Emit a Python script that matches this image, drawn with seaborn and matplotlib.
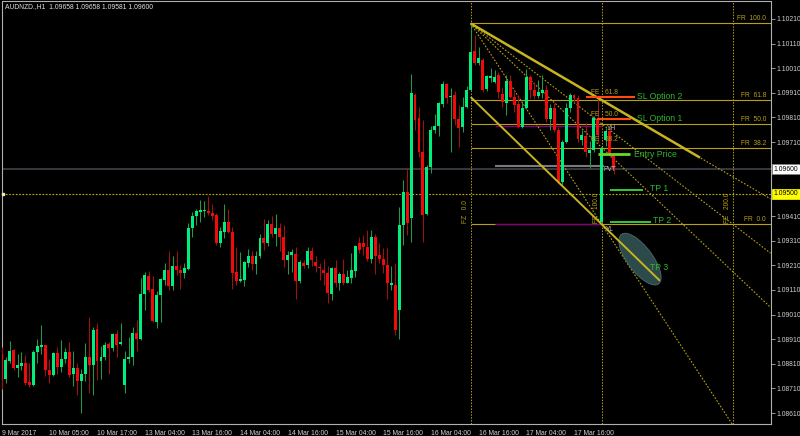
import matplotlib
matplotlib.use("Agg")
import matplotlib.pyplot as plt
import matplotlib.transforms as mtransforms
from matplotlib.patches import Ellipse
import numpy as np
import pandas as pd
import seaborn as sns

# AUDNZD H1 candles (index 0 = 9 Mar 2017 17:00)
opens = [
    1.08848, 1.08750, 1.08823, 1.08866, 1.08794, 1.08801, 1.08812, 1.08735, 1.08724, 1.08856,
    1.08880, 1.08887, 1.08785, 1.08765, 1.08853, 1.08799, 1.08829, 1.08858, 1.08770, 1.08792,
    1.08742, 1.08769, 1.08839, 1.08805, 1.08950, 1.08823, 1.08839, 1.08889, 1.08873, 1.08930,
    1.08889, 1.08724, 1.08829, 1.08839, 1.08937, 1.08911, 1.09093, 1.09167, 1.09114, 1.08981,
    1.09088, 1.09151, 1.09189, 1.09124, 1.09208, 1.09189, 1.09178, 1.09195, 1.09360, 1.09411,
    1.09427, 1.09431, 1.09432, 1.09424, 1.09414, 1.09300, 1.09344, 1.09384, 1.09346, 1.09181,
    1.09147, 1.09151, 1.09219, 1.09249, 1.09216, 1.09249, 1.09320, 1.09300, 1.09378, 1.09337,
    1.09360, 1.09324, 1.09232, 1.09252, 1.09256, 1.09145, 1.09218, 1.09211, 1.09269, 1.09225,
    1.09205, 1.09191, 1.09180, 1.09094, 1.09198, 1.09137, 1.09175, 1.09140, 1.09157, 1.09188,
    1.09302, 1.09299, 1.09286, 1.09234, 1.09324, 1.09252, 1.09234, 1.09211, 1.09130, 1.09130,
    1.09029, 1.09374, 1.09509, 1.09401, 1.09901, 1.09807, 1.09671, 1.09418, 1.09610, 1.09759,
    1.09776, 1.09865, 1.09946, 1.09895, 1.09901, 1.09803, 1.09773, 1.09851, 1.09922, 1.10080,
    1.10030, 1.10045, 1.09926, 1.09972, 1.09955, 1.09982, 1.09905, 1.09868, 1.09958, 1.09895,
    1.09864, 1.09773, 1.09850, 1.09976, 1.09922, 1.09897, 1.09908, 1.09922, 1.09804, 1.09847,
    1.09759, 1.09550, 1.09712, 1.09847, 1.09901, 1.09889, 1.09719, 1.09735, 1.09666, 1.09678,
    1.09804, 1.09386, 1.09719, 1.09755, 1.09658,
]
highs = [
    1.08877, 1.08839, 1.08903, 1.08870, 1.08850, 1.08857, 1.08846, 1.08812, 1.08866, 1.08910,
    1.08968, 1.08887, 1.08828, 1.08856, 1.08880, 1.08907, 1.08873, 1.08900, 1.08860, 1.08812,
    1.08789, 1.08896, 1.09001, 1.08961, 1.08977, 1.08883, 1.08900, 1.08900, 1.08937, 1.08947,
    1.08977, 1.08860, 1.08920, 1.08961, 1.08988, 1.09158, 1.09181, 1.09185, 1.09165, 1.09104,
    1.09158, 1.09219, 1.09266, 1.09249, 1.09266, 1.09212, 1.09221, 1.09381, 1.09428, 1.09438,
    1.09473, 1.09469, 1.09492, 1.09459, 1.09421, 1.09364, 1.09459, 1.09438, 1.09364, 1.09284,
    1.09262, 1.09226, 1.09276, 1.09266, 1.09266, 1.09338, 1.09397, 1.09394, 1.09411, 1.09419,
    1.09381, 1.09374, 1.09266, 1.09276, 1.09284, 1.09232, 1.09232, 1.09283, 1.09283, 1.09248,
    1.09218, 1.09234, 1.09207, 1.09205, 1.09232, 1.09184, 1.09234, 1.09191, 1.09261, 1.09292,
    1.09324, 1.09333, 1.09353, 1.09353, 1.09337, 1.09302, 1.09279, 1.09279, 1.09207, 1.09218,
    1.09448, 1.09556, 1.09604, 1.09987, 1.09908, 1.09854, 1.09800, 1.09617, 1.09776, 1.09824,
    1.09874, 1.09960, 1.09951, 1.09928, 1.09919, 1.09861, 1.09895, 1.09938, 1.10192, 1.10145,
    1.10097, 1.10050, 1.09982, 1.10010, 1.10003, 1.09996, 1.09935, 1.09982, 1.09982, 1.09922,
    1.09901, 1.09871, 1.10007, 1.09982, 1.09955, 1.09962, 1.09982, 1.09942, 1.09864, 1.09867,
    1.09773, 1.09719, 1.09867, 1.09908, 1.09904, 1.09901, 1.09759, 1.09788, 1.09715, 1.09816,
    1.09893, 1.09690, 1.09767, 1.09770, 1.09658,
]
lows = [
    1.08709, 1.08734, 1.08812, 1.08783, 1.08758, 1.08785, 1.08724, 1.08715, 1.08720, 1.08812,
    1.08850, 1.08761, 1.08731, 1.08761, 1.08769, 1.08775, 1.08812, 1.08758, 1.08718, 1.08684,
    1.08610, 1.08739, 1.08691, 1.08684, 1.08745, 1.08747, 1.08826, 1.08769, 1.08860, 1.08836,
    1.08885, 1.08691, 1.08812, 1.08806, 1.08860, 1.08907, 1.09027, 1.09100, 1.08981, 1.08957,
    1.08981, 1.09131, 1.09111, 1.09108, 1.09171, 1.09114, 1.09158, 1.09192, 1.09324, 1.09374,
    1.09387, 1.09408, 1.09414, 1.09394, 1.09293, 1.09284, 1.09320, 1.09340, 1.09114, 1.09131,
    1.09141, 1.09124, 1.09203, 1.09192, 1.09176, 1.09239, 1.09270, 1.09289, 1.09324, 1.09289,
    1.09266, 1.09205, 1.09176, 1.09181, 1.09073, 1.09138, 1.09198, 1.09198, 1.09207, 1.09184,
    1.09150, 1.09130, 1.09056, 1.09069, 1.09123, 1.09110, 1.09130, 1.09137, 1.09137, 1.09161,
    1.09261, 1.09252, 1.09229, 1.09218, 1.09175, 1.09218, 1.09177, 1.09072, 1.09110, 1.08927,
    1.08910, 1.09293, 1.09333, 1.09306, 1.09759, 1.09651, 1.09306, 1.09414, 1.09586, 1.09746,
    1.09735, 1.09851, 1.09870, 1.09671, 1.09780, 1.09692, 1.09752, 1.09847, 1.09918, 1.10023,
    1.10023, 1.09915, 1.09918, 1.09955, 1.09949, 1.09888, 1.09854, 1.09820, 1.09888, 1.09834,
    1.09766, 1.09769, 1.09844, 1.09888, 1.09885, 1.09888, 1.09888, 1.09793, 1.09759, 1.09752,
    1.09543, 1.09536, 1.09705, 1.09834, 1.09874, 1.09710, 1.09698, 1.09650, 1.09605, 1.09670,
    1.09707, 1.09374, 1.09694, 1.09650, 1.09581,
]
closes = [
    1.08749, 1.08826, 1.08862, 1.08792, 1.08805, 1.08812, 1.08734, 1.08724, 1.08857, 1.08883,
    1.08887, 1.08785, 1.08765, 1.08853, 1.08799, 1.08829, 1.08858, 1.08765, 1.08792, 1.08742,
    1.08769, 1.08839, 1.08805, 1.08947, 1.08823, 1.08839, 1.08887, 1.08873, 1.08930, 1.08887,
    1.08897, 1.08830, 1.08839, 1.08937, 1.08911, 1.09093, 1.09171, 1.09111, 1.08985, 1.09090,
    1.09154, 1.09189, 1.09124, 1.09208, 1.09189, 1.09178, 1.09198, 1.09360, 1.09411, 1.09432,
    1.09435, 1.09435, 1.09421, 1.09412, 1.09300, 1.09350, 1.09384, 1.09344, 1.09178, 1.09145,
    1.09155, 1.09222, 1.09249, 1.09216, 1.09249, 1.09320, 1.09300, 1.09378, 1.09337, 1.09360,
    1.09324, 1.09232, 1.09253, 1.09262, 1.09145, 1.09225, 1.09207, 1.09269, 1.09232, 1.09207,
    1.09198, 1.09178, 1.09096, 1.09198, 1.09137, 1.09175, 1.09137, 1.09164, 1.09191, 1.09288,
    1.09272, 1.09286, 1.09234, 1.09324, 1.09248, 1.09234, 1.09211, 1.09137, 1.09137, 1.08947,
    1.09374, 1.09509, 1.09383, 1.09908, 1.09800, 1.09671, 1.09414, 1.09610, 1.09759, 1.09776,
    1.09870, 1.09946, 1.09888, 1.09898, 1.09803, 1.09766, 1.09854, 1.09922, 1.10077, 1.10030,
    1.10050, 1.09922, 1.09978, 1.09978, 1.09976, 1.09912, 1.09871, 1.09958, 1.09895, 1.09861,
    1.09773, 1.09850, 1.09976, 1.09922, 1.09899, 1.09912, 1.09922, 1.09804, 1.09850, 1.09759,
    1.09547, 1.09712, 1.09847, 1.09901, 1.09888, 1.09723, 1.09739, 1.09670, 1.09678, 1.09808,
    1.09739, 1.09686, 1.09755, 1.09658, 1.09600,
]

time_ticks = [0, 12, 24, 36, 48, 60, 72, 84, 96, 108, 120, 132, 144]
time_labels = ["9 Mar 2017", "10 Mar 05:00", "10 Mar 17:00", "13 Mar 04:00",
               "13 Mar 16:00", "14 Mar 04:00", "14 Mar 16:00", "15 Mar 04:00",
               "15 Mar 16:00", "16 Mar 04:00", "16 Mar 16:00", "17 Mar 04:00",
               "17 Mar 16:00"]
price_ticks = [1.10210, 1.10110, 1.10010, 1.09910, 1.09810, 1.09710,
               1.09410, 1.09310, 1.09210, 1.09110, 1.09010, 1.08910,
               1.08810, 1.08710, 1.08610]

# fibonacci tool anchors
swing_high = 1.10192
swing_low = 1.09376
high_bar, low_bar, fe200_bar = 118, 151, 184
fr_levels = [100.0, 61.8, 50.0, 38.2, 0.0]
fan_levels = [38.2, 50.0, 61.8, 100.0]
channel_start = 1.09893

bid = 1.09600
alert = 1.09500
pvt = 1.09614
purple_level = 1.09775
sl_levels = [1.09894, 1.09805]
entry = 1.09661
tp_levels = [1.09516, 1.09387]

GOLD = "#B8A014"
GREEN_TXT = "#2FB52F"

df = pd.DataFrame({"open": opens, "high": highs, "low": lows, "close": closes})
df["idx"] = np.arange(len(df))
df["bull"] = df["close"] >= df["open"]

sns.set_theme(style="dark", rc={
    "axes.facecolor": "black", "figure.facecolor": "black",
    "axes.edgecolor": "#B0B0B0", "axes.grid": False,
    "xtick.color": "#B0B0B0", "ytick.color": "#B0B0B0",
})
plt.rcParams["font.family"] = ["Liberation Sans", "DejaVu Sans"]

fig = plt.figure(figsize=(8, 4.36), dpi=100)
ax = fig.add_axes([1.5 / 800, 12 / 436, 769 / 800, 422.5 / 436])
x_max = 193.43
ax.set_xlim(-0.03, x_max)
ax.set_ylim(1.085656, 1.102809)

# candles
wick_col = np.where(df["bull"], "#1E9A4A", "#A01212")
body_col = np.where(df["bull"], "#00EE7E", "#F00A0A")
ax.vlines(df["idx"], df["low"], df["high"], colors=wick_col, lw=0.75, zorder=3)
body_lo = np.minimum(df["open"], df["close"])
body_h = np.maximum((df["close"] - df["open"]).abs(), 0.00003)
ax.bar(df["idx"], body_h, bottom=body_lo, width=0.74, color=body_col,
       linewidth=0, zorder=4)

# bid line and alert line
ax.axhline(bid, color="#3A3F45", lw=1.3, zorder=1)
ax.axhline(alert, color="#C8B400", lw=0.8, ls=(0, (1.5, 1.5)), zorder=2)
ax.plot([0.3], [alert], marker="s", ms=2, color="#F0EDB0", zorder=5, clip_on=False)

# vertical fibo markers
for b in (high_bar, low_bar, fe200_bar):
    ax.axvline(b, color=GOLD, lw=0.7, ls=(0, (1.5, 1.5)), zorder=2)

# fibo retracement levels
for lvl in fr_levels:
    p = swing_low + lvl / 100 * (swing_high - swing_low)
    ax.hlines(p, high_bar, x_max, color=GOLD, lw=0.8, zorder=2)
    ax.text(192.3, p + 0.00004, f"FR  {lvl:.1f}", color=GOLD, fontsize=4.8,
            ha="right", va="bottom", zorder=6)

# purple and pivot helpers
ax.hlines([purple_level, swing_low], 124, low_bar, color="#800080", lw=1.0, zorder=2)
ax.hlines(pvt, 124, low_bar + 0.5, color="#7A7A7A", lw=1.5, zorder=2)

# fibo fan from the swing high
fx = np.array([high_bar, x_max])
for lvl in fan_levels:
    target = swing_high - lvl / 100 * (swing_high - swing_low)
    slope = (target - swing_high) / (low_bar - high_bar)
    ax.plot(fx, swing_high + slope * (fx - high_bar), color=GOLD, lw=0.8,
            ls=(0, (1.5, 1.5)), zorder=2)
t382 = swing_high - 0.382 * (swing_high - swing_low)
s382 = (t382 - swing_high) / (low_bar - high_bar)
ax.plot([high_bar, 175.7], [swing_high, swing_high + s382 * (175.7 - high_bar)],
        color="#C8B41E", lw=1.8, zorder=5, solid_capstyle="butt")

# lower channel line into the TP 3 zone
s_low = (swing_low - channel_start) / (low_bar - high_bar)
ax.plot([high_bar, 165.6], [channel_start, channel_start + s_low * (165.6 - high_bar)],
        color="#C8B41E", lw=1.4, zorder=6, solid_capstyle="butt")

# TP 3 zone ellipse (pixel sized, anchored in data space)
ell = Ellipse((0, 0), 62, 25, angle=-53, fc="#2F4F4F", ec="#4E6E6E", lw=0.6,
              alpha=0.95, zorder=5,
              transform=mtransforms.ScaledTranslation(160.6, 1.09235, ax.transData))
ax.add_patch(ell)

# stop loss, entry, take profit markers
ax.hlines(sl_levels[0], 147, 159.3, color="#FF4A10", lw=1.5, zorder=6)
ax.hlines(sl_levels[1], 149.8, 158.3, color="#FF4A10", lw=1.5, zorder=6)
ax.hlines(entry, 150, 158, color="#66DD22", lw=2.0, zorder=6)
ax.hlines(tp_levels[0], 153, 161.4, color="#33CC33", lw=1.4, zorder=6)
ax.hlines(tp_levels[1], 153, 163.4, color="#33CC33", lw=1.4, zorder=6)

ax.text(148.3, sl_levels[0] + 0.00002, "FE   61.8", color=GOLD, fontsize=4.8,
        ha="left", va="bottom", zorder=7)
ax.text(148.3, sl_levels[1] + 0.00002, "FE   50.0", color=GOLD, fontsize=4.8,
        ha="left", va="bottom", zorder=7)
ax.text(148.3, 1.09706, "FE   38.2", color=GOLD, fontsize=4.8,
        ha="left", va="bottom", zorder=7)

for lbl, px, p in [("SL Option 2", 159.9, 1.09897), ("SL Option 1", 159.9, 1.09805),
                   ("Entry Price", 159.1, 1.09658), ("TP 1", 163.1, 1.09520),
                   ("TP 2", 163.9, 1.09390), ("TP 3", 163.1, 1.09199)]:
    ax.text(px, p, lbl, color=GREEN_TXT, fontsize=6.2, ha="left", va="center", zorder=8)

for lbl, px, p in [("YH", 152.3, 1.09767), ("PVT", 151.3, 1.09597), ("YL", 152.0, 1.09357)]:
    ax.text(px, p, lbl, color="#BEBEBE", fontsize=4.8, ha="left", va="center", zorder=8)

# rotated fibo labels
for lbl, px in [("FZ   0.0", 117.6), ("FE   100.0", 150.6), ("FE   200.0", 183.6)]:
    ax.text(px, swing_low + 0.00004, lbl, color=GOLD, fontsize=4.8, rotation=90,
            rotation_mode="anchor", ha="left", va="bottom", zorder=7)

# axes styling
ax.yaxis.tick_right()
ax.set_yticks(price_ticks)
ax.set_yticklabels([f"{p:.5f}" for p in price_ticks])
ax.set_xticks(time_ticks)
ax.set_xticklabels(time_labels)
for t in ax.get_xticklabels():
    t.set_ha("left")
ax.tick_params(axis="both", colors="#B0B0B0", labelcolor="#D0D0D0",
               labelsize=4.9, length=3, width=0.6, direction="out")
ax.tick_params(axis="x", pad=1.2)
ax.tick_params(axis="y", pad=1.5)
for s in ax.spines.values():
    s.set_color("#B0B0B0")
    s.set_linewidth(0.8)

ybox = mtransforms.blended_transform_factory(ax.transAxes, ax.transData)
ax.text(1.004, bid, "1.09600", transform=ybox, fontsize=4.9, color="black",
        ha="left", va="center", zorder=9, clip_on=False,
        bbox=dict(boxstyle="square,pad=0.2", fc="white", ec="#808080", lw=0.5))
ax.text(1.004, alert, "1.09500", transform=ybox, fontsize=4.9, color="black",
        ha="left", va="center", zorder=9, clip_on=False,
        bbox=dict(boxstyle="square,pad=0.2", fc="#FFFF00", ec="#FFFF00", lw=0.5))

fig.text(5 / 800, 1 - 7 / 436, "AUDNZD.,H1  1.09658 1.09658 1.09581 1.09600",
         color="#E0E0E0", fontsize=4.9, ha="left", va="center")

fig.savefig("out.png", dpi=100, facecolor="black")
